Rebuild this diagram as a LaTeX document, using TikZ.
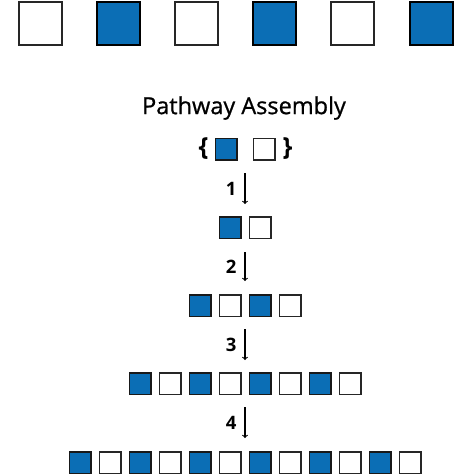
\documentclass[tikz,border=0pt]{standalone}
\usepackage{fontspec}
\setmainfont{Open Sans}
\definecolor{sqblue}{RGB}{11,110,181}

\begin{document}
\begin{tikzpicture}
[x=1pt,y=-1pt,thick,%
  every node/.style={inner sep=0pt},%
  bigwhite/.style={shape=rectangle,minimum size=43pt,line width=2pt,draw=black!85,fill=white},%
  bigblue/.style={shape=rectangle,minimum size=43pt,line width=2pt,draw=black,fill=sqblue},%
  bluesq/.style={shape=rectangle,minimum size=21.5pt,line width=1.5pt,draw=black!90,fill=sqblue},%
  whitesq/.style={shape=rectangle,minimum size=21.5pt,line width=1.5pt,draw=black!85,fill=white},%
  step label/.style={font=\bfseries\fontsize{18.5}{18.5}\selectfont,left=8pt},%
  brace/.style={font=\bfseries\fontsize{25}{25}\selectfont}]
\useasboundingbox (0,0) rectangle (474,474);
% top row
\foreach \i [evaluate=\i as \x using 40.5+78.1*(\i-1)] in {1,...,6} {
  \ifodd\i \def\sq{bigwhite}\else\def\sq{bigblue}\fi
  \node[\sq] (top\i) at (\x,23) {};
}
\node[font=\fontsize{23.5}{23.5}\selectfont\addfontfeature{FakeBold=0.8}] (title) at (244,108) {Pathway Assembly};
% building blocks
\node[brace] (lbr) at (203.5,149) {\{};
\node[bluesq] (b1) at (226,149) {};
\node[whitesq] (b2) at (264,149) {};
\node[brace] (rbr) at (287.5,149) {\}};
% assembled rows
\node[bluesq] (p1) at (230,227.5) {};
\node[whitesq] (p2) at (260,227.5) {};
\foreach \i [evaluate=\i as \x using 200+30*(\i-1)] in {1,...,4} {
  \ifodd\i \def\sq{bluesq}\else\def\sq{whitesq}\fi
  \node[\sq] (q\i) at (\x,305.5) {};
}
\foreach \i [evaluate=\i as \x using 140+30*(\i-1)] in {1,...,8} {
  \ifodd\i \def\sq{bluesq}\else\def\sq{whitesq}\fi
  \node[\sq] (r\i) at (\x,383.5) {};
}
\foreach \i [evaluate=\i as \x using 80+30*(\i-1)] in {1,...,12} {
  \ifodd\i \def\sq{bluesq}\else\def\sq{whitesq}\fi
  \node[\sq] (s\i) at (\x,462.5) {};
}
% steps
\coordinate (a1) at (245,173);
\coordinate (e1) at (245,204);
\coordinate (a2) at (245,252);
\coordinate (e2) at (245,281);
\coordinate (a3) at (245,329);
\coordinate (e3) at (245,360);
\coordinate (a4) at (245,407);
\coordinate (e4) at (245,438);
\foreach \k in {1,...,4}
  \draw[->,line width=1.1pt] (a\k) -- (e\k) node[midway,step label] (n\k) {\k};
\end{tikzpicture}
\end{document}
